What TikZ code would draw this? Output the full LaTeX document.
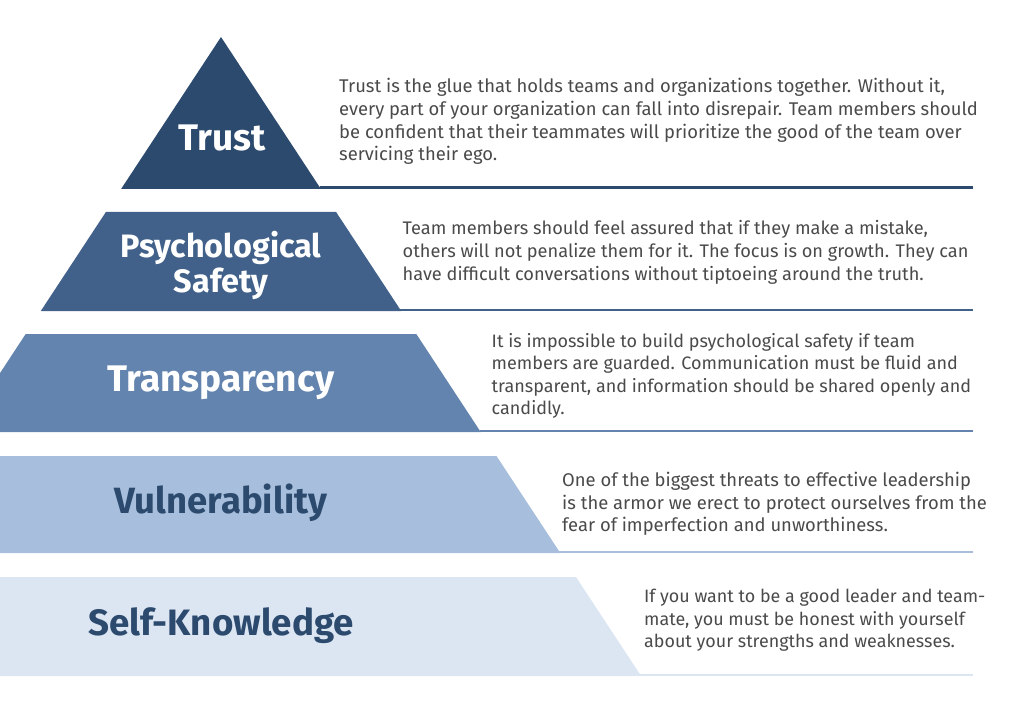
\documentclass[tikz,border=0pt]{standalone}
\usepackage{fontspec}
\setmainfont{Fira Sans}
\definecolor{cA}{HTML}{2C4A6E}
\definecolor{cB}{HTML}{41618A}
\definecolor{cC}{HTML}{6384AE}
\definecolor{cD}{HTML}{A7BFDC}
\definecolor{cE}{HTML}{DCE6F3}
\definecolor{bodygray}{HTML}{4A4A4A}
\begin{document}
\begin{tikzpicture}[x=1pt,y=-1pt,
  rule/.style={line width=2.6pt},
  lbl/.style={inner sep=0pt, anchor=base},
  body/.style={anchor=base west, inner sep=0pt, text=bodygray}]
\useasboundingbox (0,0) rectangle (1024,719);
% tiers
\fill[cA] (221,37) -- (320.9,189) -- (121.1,189) -- cycle;
\fill[cB] (105.9,212) -- (336.1,212) -- (401.2,311) -- (40.8,311) -- cycle;
\fill[cC] (25.7,334) -- (416.3,334) -- (480.7,432) -- (0,432) -- (0,373.1) -- cycle;
\fill[cD] (0,456) -- (496.5,456) -- (560.3,553) -- (0,553) -- cycle;
\fill[cE] (0,577) -- (576,577) -- (641.1,676) -- (0,676) -- cycle;
% rules
\coordinate (r1a) at (320,187.8); \coordinate (r1b) at (973,187.8);
\coordinate (r2a) at (400,309.8); \coordinate (r2b) at (973,309.8);
\coordinate (r3a) at (480,430.8); \coordinate (r3b) at (973,430.8);
\coordinate (r4a) at (559,551.8); \coordinate (r4b) at (973,551.8);
\coordinate (r5a) at (640,674.8); \coordinate (r5b) at (973,674.8);
\draw[rule,cA] (r1a) -- (r1b);
\draw[rule,cB] (r2a) -- (r2b);
\draw[rule,cC] (r3a) -- (r3b);
\draw[rule,cD] (r4a) -- (r4b);
\draw[rule,cE] (r5a) -- (r5b);
% labels
\node[lbl, text=white, font=\fontsize{37}{40}\selectfont\bfseries] (l1) at (222,151) {Trust};
\node[lbl, text=white, font=\fontsize{32.4}{35}\selectfont\bfseries] (l2a) at (221,257) {Psychological};
\node[lbl, text=white, font=\fontsize{32.4}{35}\selectfont\bfseries] (l2b) at (221,292) {Safety};
\node[lbl, text=white, font=\fontsize{37}{40}\selectfont\bfseries] (l3) at (221,391) {Transparency};
\node[lbl, text=cA, font=\fontsize{36.5}{40}\selectfont\bfseries] (l4) at (221,513) {Vulnerability};
\node[lbl, text=cA, font=\fontsize{36.7}{40}\selectfont\bfseries] (l5) at (221,635) {Self-Knowledge};
% body texts
\newcommand{\bodyblock}[2]{\parbox[t]{700pt}{\fontsize{#1}{22.6}\selectfont\raggedright #2}}
\node[body] (t1) at (339,93) {\bodyblock{18.4}{Trust is the glue that holds teams and organizations together. Without it,\\every part of your organization can fall into disrepair. Team members should\\be confident that their teammates will prioritize the good of the team over\\servicing their ego.}};
\node[body] (t2) at (402.5,235) {\bodyblock{18.2}{Team members should feel assured that if they make a mistake,\\others will not penalize them for it. The focus is on growth. They can\\have difficult conversations without tiptoeing around the truth.}};
\node[body] (t3) at (491.5,347) {\bodyblock{18.0}{It is impossible to build psychological safety if team\\members are guarded. Communication must be fluid and\\transparent, and information should be shared openly and\\candidly.}};
\node[body] (t4) at (562,486.5) {\bodyblock{18.4}{One of the biggest threats to effective leadership\\is the armor we erect to protect ourselves from the\\fear of imperfection and unworthiness.}};
\node[body] (t5) at (644,602.5) {\bodyblock{17.9}{If you want to be a good leader and team-\\mate, you must be honest with yourself\\about your strengths and weaknesses.}};
\end{tikzpicture}
\end{document}
